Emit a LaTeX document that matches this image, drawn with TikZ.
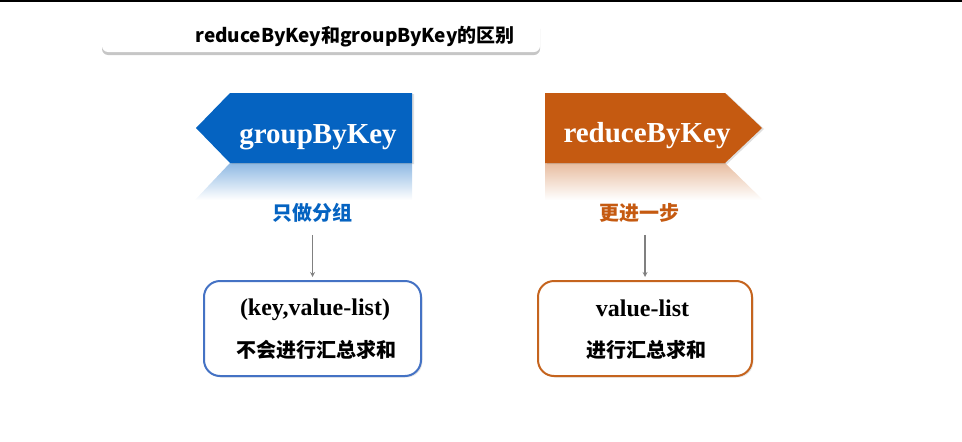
\documentclass[tikz,border=0pt]{standalone}
\usepackage{fontspec}
\setmainfont{Liberation Serif}
\newfontfamily\cjk{Noto Sans CJK SC}
\usetikzlibrary{shadows}

\definecolor{grpblue}{RGB}{5,99,193}
\definecolor{redorange}{RGB}{197,90,17}
\definecolor{cardblue}{RGB}{68,114,196}
\definecolor{cardorange}{RGB}{197,100,30}

\begin{document}
\begin{tikzpicture}[x=1pt,y=-1pt,
    headbox/.style={fill=white,rounded corners=6pt,minimum width=438pt,minimum height=32pt,
        drop shadow={shadow xshift=0pt,shadow yshift=-3pt,opacity=.45}},
    tagtext/.style={text=white,font=\bfseries\fontsize{29}{34}\selectfont,anchor=base},
    note/.style={inner sep=0pt,font=\cjk\bfseries\fontsize{20}{24}\selectfont},
    card/.style={draw,line width=2pt,fill=white,rounded corners=16pt,minimum height=95pt,
        drop shadow={shadow xshift=1.5pt,shadow yshift=-1.5pt,opacity=.2}},
    keytext/.style={font=\bfseries\fontsize{24}{28}\selectfont,anchor=base},
    sumtext/.style={font=\cjk\bfseries\fontsize{20}{24}\selectfont},
    flow/.style={-stealth,draw=gray,line width=1.2pt,shorten <=12pt,shorten >=3pt}]
    \useasboundingbox (0,0) rectangle (962,442);
    \draw[line width=1.5pt] (0,0.75) -- (962,0.75);

    % title
    \node[headbox] (head) at (321,36) {};
    \node[font=\cjk\bfseries\fontsize{19}{23}\selectfont] (headtext) at (355,37)
        {reduceByKey和groupByKey的区别};

    % groupByKey
    \shade[top color=grpblue!45,bottom color=white]
        (230,163) -- (412,163) -- (412,200) -- (195,200) -- cycle;
    \fill[grpblue,drop shadow={shadow xshift=2pt,shadow yshift=-1pt,opacity=.25}]
        (196,128) -- (230,93) -- (412,93) -- (412,163) -- (230,163) -- cycle;
    \node[tagtext] (grp) at (318,143) {groupByKey};
    \node[note,text=grpblue] (grpnote) at (312,213) {只做分组};
    \node[card,draw=cardblue,minimum width=217pt] (grpbox) at (312.5,328.5) {};
    \node[keytext] (grpkey) at (315,315) {(key,value-list)};
    \node[sumtext] (grpsum) at (316,350) {不会进行汇总求和};
    \draw[flow] (grpnote.south -| grpbox.north) -- (grpbox.north);

    % reduceByKey
    \shade[top color=redorange!40,bottom color=white]
        (545,163) -- (725,163) -- (763,200) -- (545,200) -- cycle;
    \fill[redorange,drop shadow={shadow xshift=2pt,shadow yshift=-1pt,opacity=.25}]
        (545,93) -- (725,93) -- (762,128) -- (725,163) -- (545,163) -- cycle;
    \node[tagtext] (red) at (647,142) {reduceByKey};
    \node[note,text=redorange] (rednote) at (639,213) {更进一步};
    \node[card,draw=cardorange,minimum width=214pt] (redbox) at (645,328.5) {};
    \node[keytext] (redkey) at (642.5,316) {value-list};
    \node[sumtext] (redsum) at (646,350) {进行汇总求和};
    \draw[flow] (rednote.south -| redbox.north) -- (redbox.north);
\end{tikzpicture}
\end{document}
